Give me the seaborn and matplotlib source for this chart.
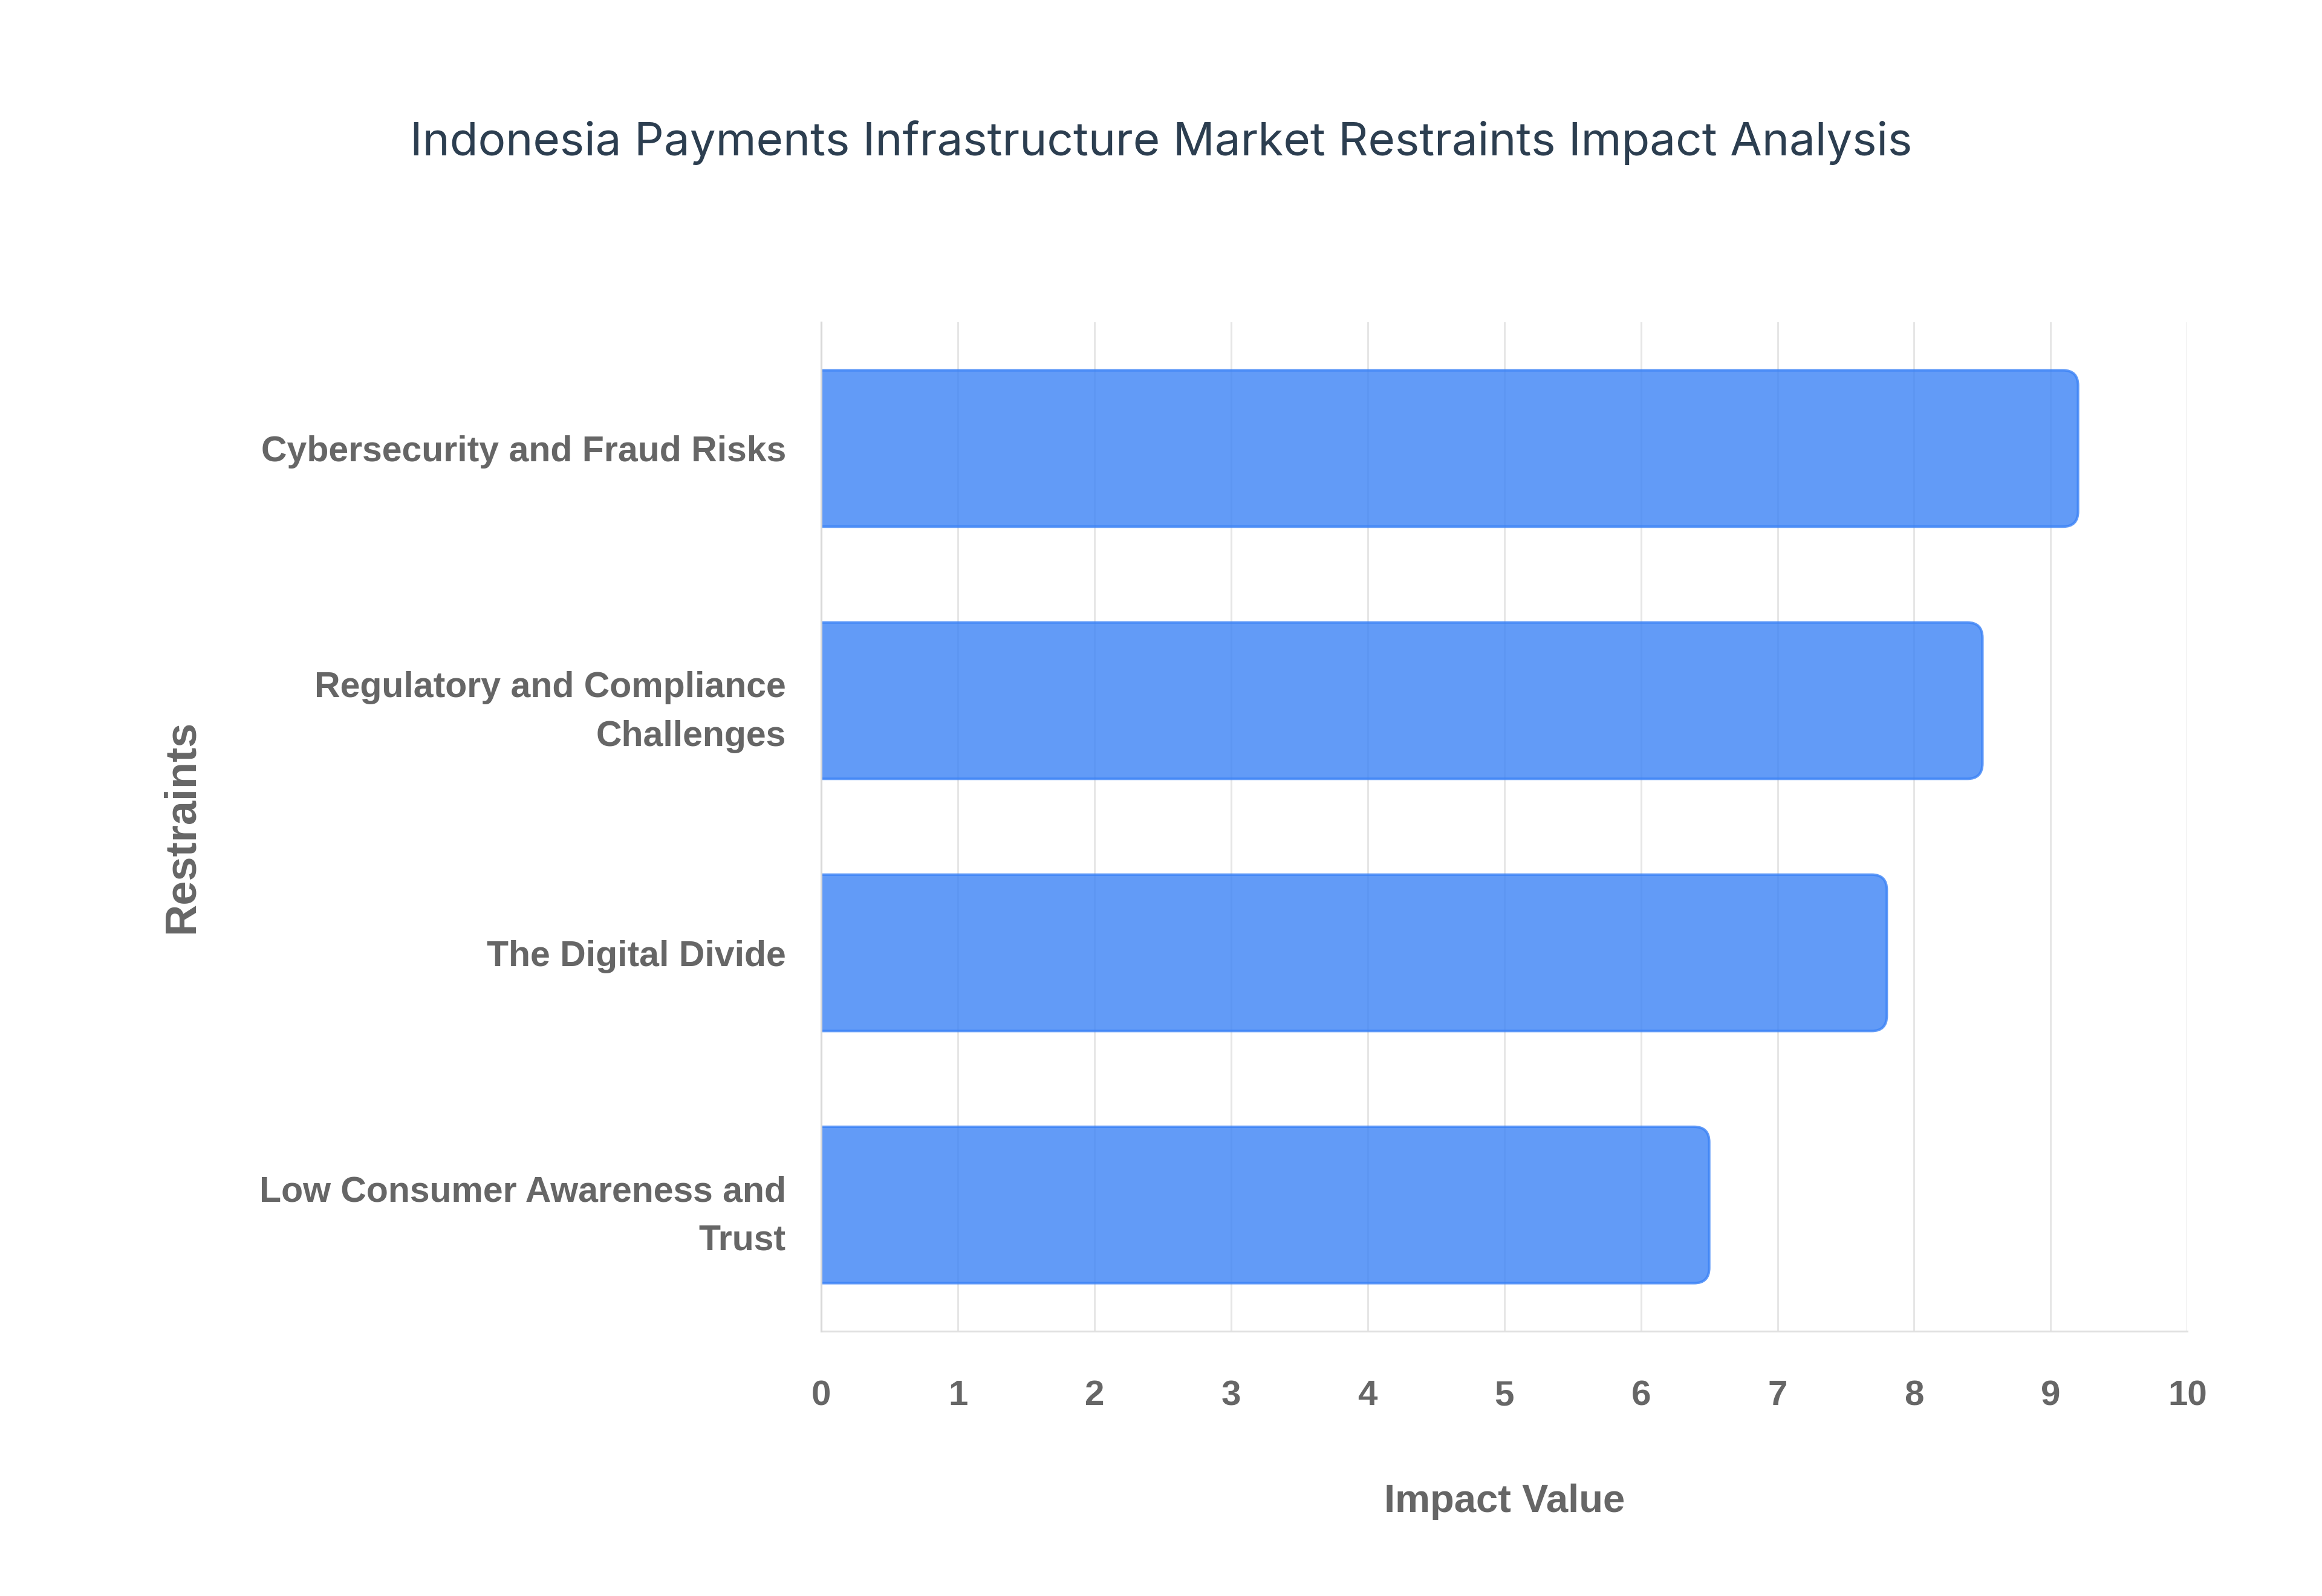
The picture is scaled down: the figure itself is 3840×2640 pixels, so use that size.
import matplotlib
matplotlib.use("Agg")
import matplotlib.pyplot as plt
import seaborn as sns
import pandas as pd
from matplotlib.patches import FancyBboxPatch

# ---- data ----
restraints = [
    "Cybersecurity and Fraud Risks",
    "Regulatory and Compliance\nChallenges",
    "The Digital Divide",
    "Low Consumer Awareness and\nTrust",
]
impact_values = [9.2, 8.5, 7.8, 6.5]
x_ticks = [0, 1, 2, 3, 4, 5, 6, 7, 8, 9, 10]

title = "Indonesia Payments Infrastructure Market Restraints Impact Analysis"
x_label = "Impact Value"
y_label = "Restraints"

df = pd.DataFrame({"Restraints": restraints, "Impact Value": impact_values})

sns.set_theme(style="white")
plt.rcParams["font.family"] = ["Liberation Sans", "DejaVu Sans"]

fig = plt.figure(figsize=(38.4, 26.4), dpi=100)
ax = fig.add_axes([0.3537, 0.166, 0.5883, 0.632])

bar_color = "#3b82f6"
sns.barplot(data=df, x="Impact Value", y="Restraints", orient="h",
            color=bar_color, width=0.62, ax=ax, zorder=2)

ax.set_xlim(0, 10)

# rounded bar ends, derived from the patches seaborn drew
for p in list(ax.patches):
    x0, y0 = p.get_x(), p.get_y()
    w, h = p.get_width(), p.get_height()
    rp = FancyBboxPatch((x0 - 0.3, y0), w + 0.3, h,
                        boxstyle="round,pad=0,rounding_size=0.11",
                        mutation_aspect=0.55,
                        facecolor=bar_color, alpha=0.8,
                        edgecolor=bar_color, linewidth=3,
                        zorder=2, clip_on=True)
    p.remove()
    ax.add_patch(rp)

ax.set_xticks(x_ticks)
ax.set_xticklabels([str(t) for t in x_ticks])
ax.grid(axis="x", color="#e6e6e6", linewidth=2.2, zorder=0)
ax.grid(axis="y", visible=False)
ax.set_axisbelow(True)

for s in ["top", "right"]:
    ax.spines[s].set_visible(False)
ax.spines["left"].set_color("#d9d9d9")
ax.spines["left"].set_linewidth(2.2)
ax.spines["bottom"].set_color("#e0e0e0")
ax.spines["bottom"].set_linewidth(2.2)
ax.spines["left"].set_zorder(3)

ax.tick_params(axis="both", length=0)
ax.tick_params(axis="x", pad=58, labelsize=42, labelcolor="#666666")
ax.tick_params(axis="y", pad=42, labelsize=42.5, labelcolor="#666666")
for lbl in ax.get_xticklabels() + ax.get_yticklabels():
    lbl.set_fontweight("bold")
for lbl in ax.get_yticklabels():
    lbl.set_linespacing(1.6)

ax.set_xlabel(x_label, fontsize=47, fontweight="bold", color="#666666", va="center")
ax.xaxis.set_label_coords(0.5, -0.169)
ax.set_ylabel(y_label, fontsize=52, fontweight="bold", color="#666666", va="center")
ax.yaxis.set_label_coords(-0.468, 0.5)

fig.text(0.5, 1 - 236 / 2640, title, ha="center", va="center",
         fontsize=55, color="#2c3e50", family=["Inter", "DejaVu Sans"])

fig.savefig("out.png", dpi=100, facecolor="white")
